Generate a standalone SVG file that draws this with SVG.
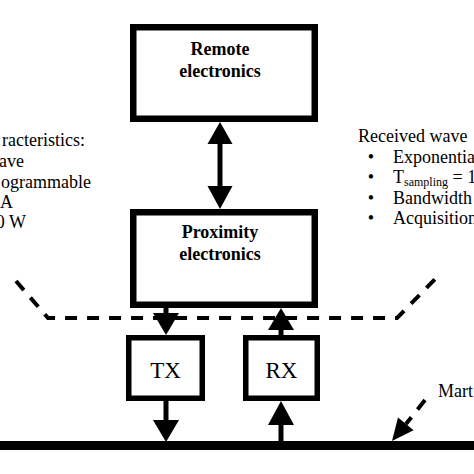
<svg xmlns="http://www.w3.org/2000/svg" width="474" height="474" viewBox="0 0 474 474">
  <style>
    .box { fill: #fff; stroke: #000; }
    .big { stroke-width: 6.5; }
    .small { stroke-width: 5.5; }
    .bold { font-family: "Liberation Serif", "Times New Roman", serif; font-weight: bold; font-size: 18px; text-anchor: middle; fill: #000; }
    .lbl { font-family: "Liberation Serif", "Times New Roman", serif; font-size: 23px; text-anchor: middle; fill: #000; }
    .txt { font-family: "Liberation Serif", "Times New Roman", serif; font-size: 18px; fill: #000; }
    .shaft { stroke: #000; stroke-width: 5; fill: none; }
    .dash { stroke: #000; stroke-width: 4; fill: none; stroke-dasharray: 12 10; }
    .head { fill: #000; }
  </style>
  <rect width="474" height="474" fill="#fff"/>

  <g id="connectors">
    <line class="shaft" x1="220" y1="142" x2="220" y2="188"/>
    <polygon class="head" points="220,122 207.5,144 232.5,144"/>
    <polygon class="head" points="220,209 207.5,186 232.5,186"/>
    <line class="shaft" x1="166" y1="308" x2="166" y2="315"/>
    <polygon class="head" points="153,313 179,313 166,335"/>
    <line class="shaft" x1="281" y1="328" x2="281" y2="335"/>
    <polygon class="head" points="281,308 268,330 294,330"/>
    <line class="shaft" x1="166" y1="401" x2="166" y2="422"/>
    <polygon class="head" points="153,420 179,420 166,442"/>
    <line class="shaft" x1="281" y1="423" x2="281" y2="441"/>
    <polygon class="head" points="281,401 268,425 294,425"/>
    <polyline class="dash" points="16,281 48,318 397,318 441,273"/>
    <line class="dash" x1="425" y1="400" x2="406" y2="424" stroke-dasharray="14 7"/>
    <polygon class="head" points="392,441 398,417.6 413.6,430.2"/>
  </g>

  <g id="bus">
    <rect x="0" y="441" width="474" height="9" fill="#000"/>
  </g>

  <g id="remote">
    <rect class="box big" x="133.25" y="27.25" width="181.5" height="91.5"/>
    <text class="bold" x="220" y="55">Remote</text>
    <text class="bold" x="220" y="77">electronics</text>
  </g>

  <g id="proximity">
    <rect class="box big" x="133.25" y="212.25" width="181.5" height="92.5"/>
    <text class="bold" x="220" y="238">Proximity</text>
    <text class="bold" x="220" y="260">electronics</text>
  </g>

  <g id="tx">
    <rect class="box small" x="128.75" y="337.75" width="73.5" height="60.5"/>
    <text class="lbl" x="165.5" y="378">TX</text>
  </g>

  <g id="rx">
    <rect class="box small" x="245.75" y="337.75" width="71.5" height="60.5"/>
    <text class="lbl" x="281.5" y="378">RX</text>
  </g>

  <g id="tx-characteristics">
    <text class="txt" x="85" y="146" text-anchor="end">racteristics:</text>
    <text class="txt" x="24" y="167" text-anchor="end">ave</text>
    <text class="txt" x="91" y="188" text-anchor="end">ogrammable</text>
    <text class="txt" x="13" y="208" text-anchor="end">A</text>
    <text class="txt" x="26" y="228" text-anchor="end">0 W</text>
  </g>

  <g id="rx-characteristics">
    <text class="txt" x="358" y="142">Received wave</text>
    <text class="txt" x="371" y="163" text-anchor="middle">•</text>
    <text class="txt" x="393" y="163">Exponentia</text>
    <text class="txt" x="371" y="183" text-anchor="middle">•</text>
    <text class="txt" x="393" y="183">T<tspan font-size="12" dy="3">sampling</tspan><tspan dy="-3"> = 1</tspan></text>
    <text class="txt" x="371" y="204" text-anchor="middle">•</text>
    <text class="txt" x="393" y="204">Bandwidth</text>
    <text class="txt" x="371" y="224" text-anchor="middle">•</text>
    <text class="txt" x="393" y="224">Acquisition</text>
  </g>

  <g id="marker-label">
    <text class="txt" x="438" y="397">Mart</text>
  </g>
</svg>
